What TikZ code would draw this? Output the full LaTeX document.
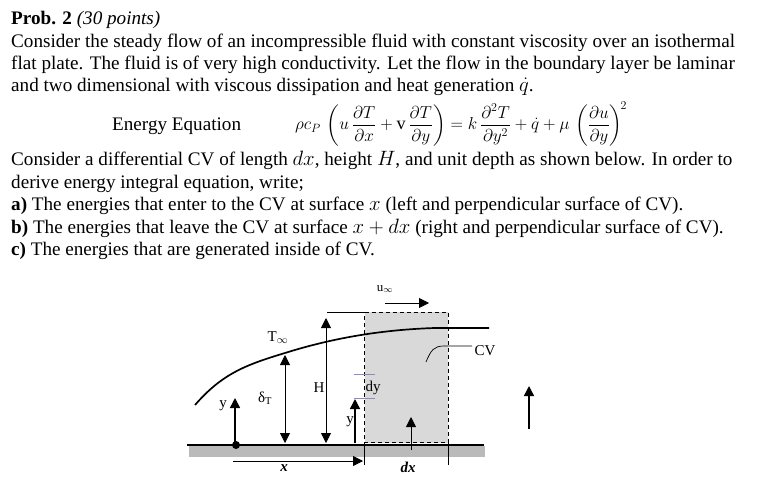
\documentclass[tikz,border=0pt]{standalone}
\usepackage{amsmath}
\usepackage{fontspec}
\setmainfont{Liberation Serif}
\usetikzlibrary{arrows.meta}
\tikzset{
 txt/.style={anchor=base west,inner sep=0pt,font=\fontsize{19.15}{22}\selectfont},
 lab/.style={inner sep=0pt,font=\fontsize{15}{17}\selectfont},
 tip/.style={-{Triangle[length=10pt,width=10pt]}},
 dtip/.style={{Triangle[length=10pt,width=10pt]}-{Triangle[length=10pt,width=10pt]}},
 cvline/.style={black,line width=1pt,dash pattern=on 4pt off 3pt},
}
\begin{document}
\begin{tikzpicture}[x=1pt,y=-1pt]
\useasboundingbox[fill=white] (0,0) rectangle (768,482);
% text
\node[txt] (l1) at (11,24) {\textbf{Prob. 2} \textit{(30 points)}};
\node[txt] (l2) at (11,47) {Consider the steady flow of an incompressible fluid with constant viscosity over an isothermal};
\node[txt] (l3) at (11,69) {flat plate. The fluid is of very high conductivity. Let the flow in the boundary layer be laminar};
\node[txt] (l4) at (11,91) {and two dimensional with viscous dissipation and heat generation $\dot q$.};
\node[txt] (ee) at (112,130) {Energy Equation};
\node[txt,anchor=west,font=\fontsize{18.2}{21}\selectfont] (eq) at (295,124) {$\rho c_P\,\left(u\,\dfrac{\partial T}{\partial x}+\mathrm{v}\,\dfrac{\partial T}{\partial y}\right)=k\,\dfrac{\partial^2 T}{\partial y^2}+\dot q+\mu\,\left(\dfrac{\partial u}{\partial y}\right)^{\!2}$};
\node[txt] (l5) at (11,165) {Consider a differential CV of length $dx$, height $H$, and unit depth as shown below. In order to};
\node[txt] (l6) at (11,188) {derive energy integral equation, write;};
\node[txt] (l7) at (11,210) {\textbf{a)} The energies that enter to the CV at surface $x$ (left and perpendicular surface of CV).};
\node[txt] (l8) at (11,233) {\textbf{b)} The energies that leave the CV at surface $x+dx$ (right and perpendicular surface of CV).};
\node[txt] (l9) at (11,255) {\textbf{c)} The energies that are generated inside of CV.};
% plate and CV
\fill[black!27] (189,446) rectangle (485,457);
\fill[black!15] (364.5,312) rectangle (448,442.5);
\coordinate (pl) at (187,444.7); \coordinate (pr) at (484,444.7);
\draw[line width=1.6pt] (pl) -- (pr);
\coordinate (cvtl) at (364.5,312); \coordinate (cvtr) at (448,312);
\coordinate (cvbl) at (364.5,442.5); \coordinate (cvbr) at (448,442.5);
\draw[cvline] (cvtl) -- (cvtr) -- (cvbr) -- (cvbl) -- cycle;
\coordinate (xl) at (364.5,465); \coordinate (xr) at (448,465);
\draw[line width=.8pt] (cvbl) -- (xl) (cvbr) -- (xr);
% boundary layer
\draw[line width=1.7pt] (195,405) .. controls (222,374) and (245,365) .. (285,353)
  .. controls (320,342) and (370,330) .. (435,328) -- (489,328);
% arrows
\coordinate (a1) at (235,445); \coordinate (a2) at (235,398);
\draw[tip,line width=1.5pt] (a1) -- (a2);
\fill (236,445) circle (4);
\coordinate (d1) at (285,355); \coordinate (d2) at (285,443);
\draw[dtip,line width=.8pt] (d1) -- (d2);
\coordinate (h1) at (326,318); \coordinate (h2) at (326,443);
\draw[dtip,line width=.8pt] (h1) -- (h2);
\coordinate (ht) at (327,312);
\draw[line width=.8pt] (ht) -- (cvtl);
\coordinate (y1) at (355,443); \coordinate (y2) at (355,399);
\draw[tip,line width=1.5pt] (y1) -- (y2);
\coordinate (x1) at (233,461); \coordinate (x2) at (363,461);
\draw[tip,line width=.8pt] (x1) -- (x2);
\coordinate (u1) at (385,303); \coordinate (u2) at (429,303);
\draw[tip,line width=.8pt] (u1) -- (u2);
\coordinate (i1) at (411,450); \coordinate (i2) at (411,417);
\draw[tip,line width=.8pt] (i1) -- (i2);
\coordinate (r1) at (529,429); \coordinate (r2) at (529,386);
\draw[tip,line width=1.5pt] (r1) -- (r2);
% dy ticks
\coordinate (t1) at (354,374); \coordinate (t2) at (375,374);
\coordinate (t3) at (354,398); \coordinate (t4) at (375,398);
\draw[color=blue!30!gray!70,line width=.8pt] (t1) -- (t2) (t3) -- (t4);
% CV leader
\coordinate (c1) at (472,346); \coordinate (c2) at (426,362);
\draw[line width=.7pt] (c1) -- (444,346) .. controls (434,346) and (431,350) .. (c2);
% labels
\node[lab] (lu) at (385,289) {\fontsize{13}{14}\selectfont u$_{\infty}$};
\node[lab] (lt) at (278,338) {T$_{\infty}$};
\node[lab] (ld) at (265,398) {δ$_{\mathrm{T}}$};
\node[lab] (lh) at (319,388) {H};
\node[lab] (ly) at (223,406) {y};
\node[lab] (ly2) at (350,422) {y};
\node[lab] (ldy) at (373,388) {dy};
\node[lab] (lcv) at (485,351) {CV};
\node[lab] (lx) at (284,468) {\textbf{\textit{x}}};
\node[lab] (ldx) at (408,467) {\textbf{\textit{dx}}};
\end{tikzpicture}
\end{document}
